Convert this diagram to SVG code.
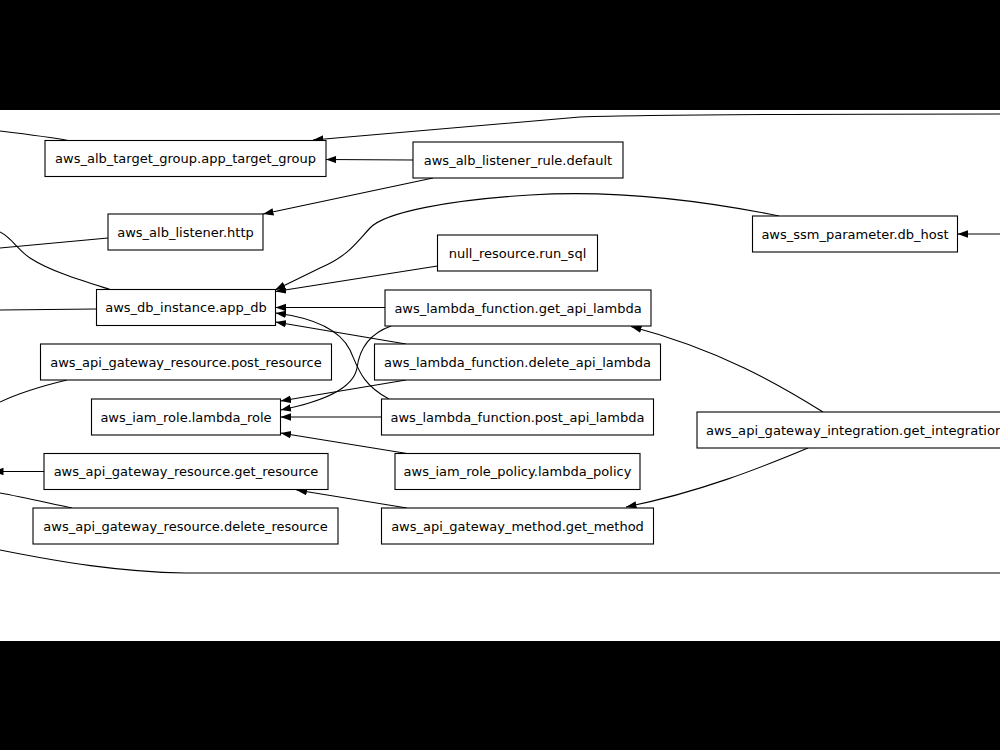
<svg xmlns="http://www.w3.org/2000/svg" width="1000" height="750" viewBox="0 0 1000 750">
<style>
.node rect{fill:#ffffff;stroke:#000000;stroke-width:1.1}
.node text{font-family:"DejaVu Sans","Liberation Sans",sans-serif;font-size:13px;fill:#000000;text-anchor:middle}
#edges path{fill:none;stroke:#000000;stroke-width:1.1}
.arr{marker-end:url(#ah)}
</style>
<defs>
<marker id="ah" markerUnits="userSpaceOnUse" markerWidth="11" markerHeight="8" refX="10.5" refY="3.75" orient="auto">
<path d="M0,0 L10.5,3.75 L0,7.5 z" fill="#000000"/>
</marker>
</defs>
<rect x="0" y="0" width="1000" height="750" fill="#000000"/>
<rect x="0" y="110" width="1000" height="531" fill="#ffffff"/>
<g id="edges">
<path class="arr" d="M1000,114 C820,114 660,114 580,117 L313,140"/>
<path d="M0,131 C25,134 50,137 68,140.5"/>
<path class="arr" d="M413,160 L326,159.5"/>
<path class="arr" d="M433,178 L263,214"/>
<path d="M108,238 L0,248"/>
<path d="M0,232 C12,238 18,250 30,258 C50,271 80,280 110,289.5"/>
<path d="M96.5,309 L0,310"/>
<path class="arr" d="M779,216 C700,200 610,190 530,195 C450,200 385,212 370,228 C355,244 348,256 320,268 L275,290"/>
<path class="arr" d="M1000,234 L957.5,234"/>
<path class="arr" d="M437.5,266 L275.5,291.5"/>
<path class="arr" d="M385,307.5 L275.5,307.5"/>
<path class="arr" d="M406,344 L275.5,322"/>
<path class="arr" d="M389,399 C362,385 358,368 350,350 C340,330 315,318 275.5,313"/>
<path class="arr" d="M391,326 C366,335 359,352 357,368 C353,390 320,402 280.5,410"/>
<path class="arr" d="M406,380 L280.5,401"/>
<path class="arr" d="M381.5,417 L280.5,417"/>
<path class="arr" d="M407,453.5 L280.5,433"/>
<path d="M67,380 C42,386 17,394 0,402"/>
<path class="arr" d="M44,471.5 L-7,471.5"/>
<path d="M72,508 C48,503 22,497 0,493"/>
<path class="arr" d="M407,508 L296.5,490"/>
<path d="M0,550 C60,562 120,572 185,573 L1000,573"/>
<path class="arr" d="M823,412 C780,385 720,350 631,326.5"/>
<path class="arr" d="M808,448 C760,468 700,492 626,507"/>
</g>
<g id="n_target_group" class="node"><rect x="45" y="140.5" width="281" height="36"/><text x="185.5" y="163">aws_alb_target_group.app_target_group</text></g>
<g id="n_listener_rule" class="node"><rect x="413" y="142" width="210" height="36"/><text x="518" y="164.5">aws_alb_listener_rule.default</text></g>
<g id="n_alb_listener" class="node"><rect x="108" y="214" width="155" height="36"/><text x="185.5" y="236.5">aws_alb_listener.http</text></g>
<g id="n_ssm" class="node"><rect x="752.5" y="216" width="205" height="36"/><text x="855" y="238.5">aws_ssm_parameter.db_host</text></g>
<g id="n_null" class="node"><rect x="437.5" y="235" width="160" height="36"/><text x="517.5" y="257.5">null_resource.run_sql</text></g>
<g id="n_db" class="node"><rect x="96.5" y="289.5" width="179" height="36"/><text x="186" y="312">aws_db_instance.app_db</text></g>
<g id="n_get_lambda" class="node"><rect x="385" y="290" width="266" height="36"/><text x="518" y="312.5">aws_lambda_function.get_api_lambda</text></g>
<g id="n_post_resource" class="node"><rect x="40.5" y="344" width="291" height="36"/><text x="186" y="366.5">aws_api_gateway_resource.post_resource</text></g>
<g id="n_delete_lambda" class="node"><rect x="374.5" y="344" width="286" height="36"/><text x="517.5" y="366.5">aws_lambda_function.delete_api_lambda</text></g>
<g id="n_role" class="node"><rect x="91.5" y="399" width="189" height="36"/><text x="186" y="421.5">aws_iam_role.lambda_role</text></g>
<g id="n_post_lambda" class="node"><rect x="381.5" y="399" width="272" height="36"/><text x="517.5" y="421.5">aws_lambda_function.post_api_lambda</text></g>
<g id="n_integration" class="node"><rect x="697" y="412" width="400" height="36"/><text x="706" y="434.5" style="text-anchor:start;font-size:13.1px">aws_api_gateway_integration.get_integration</text></g>
<g id="n_get_resource" class="node"><rect x="44" y="453.5" width="284" height="36"/><text x="186" y="476">aws_api_gateway_resource.get_resource</text></g>
<g id="n_policy" class="node"><rect x="395" y="453.5" width="245" height="36"/><text x="517.5" y="476">aws_iam_role_policy.lambda_policy</text></g>
<g id="n_delete_resource" class="node"><rect x="33" y="508" width="305" height="36"/><text x="185.5" y="530.5">aws_api_gateway_resource.delete_resource</text></g>
<g id="n_get_method" class="node"><rect x="381.5" y="508" width="272" height="36"/><text x="517.5" y="530.5">aws_api_gateway_method.get_method</text></g>
</svg>
